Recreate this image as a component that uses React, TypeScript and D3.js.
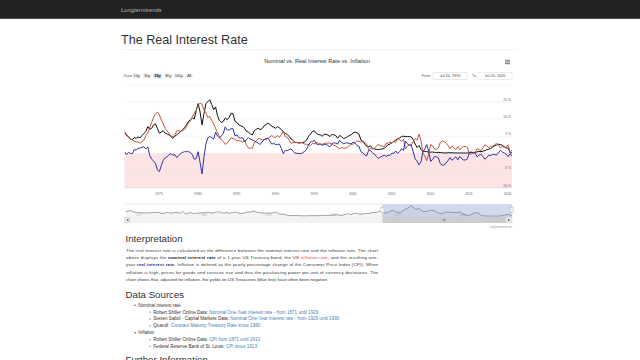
import { useEffect, useRef } from 'react';
import * as d3 from 'd3';

const WIDTH = 640;
const HEIGHT = 360;
const FONT = '"Liberation Sans", Arial, Helvetica, sans-serif';

// Quarterly observations, Jul 1970 .. Jul 2020 (percent)
const NOMINAL_RATE = [
  6.3, 5.2,
  4.9, 4.2, 3.9, 4.6, 4.4, 4.8, 4.5, 5.2, 5.8, 6.4, 7.8, 7.0, 7.3, 8.3, 8.6, 7.2,
  5.9, 6.2, 6.6, 5.9, 5.6, 5.4, 4.9, 4.4, 5.0, 5.4, 6.0, 6.4, 6.9, 7.5, 8.3, 9.3,
  9.8, 10.3, 10.0, 12.4, 14.5, 12.0, 8.3, 11.5, 14.5, 15.0, 15.6, 14.2, 12.7, 13.5, 11.0, 9.5,
  9.0, 9.3, 10.3, 9.8, 10.5, 11.7, 11.5, 9.3, 9.0, 8.3, 8.0, 7.8, 7.3, 6.4, 6.2, 5.6,
  5.4, 6.6, 7.0, 7.3, 6.9, 7.2, 8.0, 8.4, 8.8, 8.4, 7.9, 7.6, 7.3, 7.8, 7.4, 6.9,
  6.2, 5.8, 5.5, 4.9, 4.2, 3.8, 3.2, 3.2, 3.0, 3.1, 3.2, 3.3, 3.9, 5.0, 5.6, 6.4,
  6.6, 5.9, 5.5, 5.4, 5.0, 5.5, 5.6, 5.3, 4.9, 5.5, 5.4, 5.2, 4.4, 5.2, 4.9, 4.3,
  4.5, 4.8, 5.2, 5.4, 6.0, 6.2, 6.0, 5.6, 3.9, 3.5, 2.7, 2.0, 2.0, 2.2, 1.5, 1.3,
  1.2, 1.1, 1.2, 1.3, 1.4, 2.0, 2.5, 2.7, 3.1, 3.5, 3.9, 4.3, 4.5, 4.9, 5.0, 4.9,
  4.9, 4.9, 4.8, 4.0, 2.7, 1.7, 2.3, 1.2, 0.5, 0.6, 0.5, 0.4, 0.35, 0.4, 0.3, 0.25,
  0.3, 0.25, 0.2, 0.12, 0.12, 0.18, 0.19, 0.18, 0.15, 0.12, 0.12, 0.12, 0.12, 0.11, 0.11, 0.11,
  0.2, 0.23, 0.3, 0.26, 0.45, 0.56, 0.51, 0.66, 0.82, 1.05, 1.22, 1.4, 1.8, 2.2, 2.4, 2.65,
  2.55, 2.4, 1.95, 1.6, 1.55, 0.2, 0.15,
];

const INFLATION_RATE = [
  5.8, 5.6,
  4.6, 4.2, 4.0, 3.5, 3.4, 3.3, 3.0, 3.4, 3.9, 5.1, 5.9, 7.6, 9.0, 10.5, 11.5, 12.0,
  11.2, 9.7, 8.6, 7.2, 6.5, 5.8, 5.0, 4.9, 5.4, 6.6, 6.6, 6.4, 6.6, 7.0, 7.8, 8.8,
  9.5, 10.7, 11.7, 12.6, 14.0, 14.6, 14.3, 12.6, 11.8, 10.5, 10.7, 9.6, 8.6, 7.3, 6.0, 5.0,
  3.9, 3.5, 2.6, 3.0, 3.7, 4.5, 4.3, 4.2, 3.6, 3.7, 3.6, 3.2, 3.9, 2.3, 1.6, 1.5,
  1.5, 3.0, 3.7, 4.3, 4.3, 3.9, 4.0, 4.1, 4.4, 4.8, 5.2, 4.7, 4.7, 5.2, 4.7, 5.5,
  6.3, 4.9, 4.7, 3.8, 2.9, 3.2, 3.1, 3.2, 3.0, 3.2, 3.0, 2.7, 2.7, 2.5, 2.3, 2.9,
  2.8, 3.1, 3.0, 2.6, 2.7, 2.8, 3.0, 3.0, 3.0, 2.8, 2.3, 2.2, 1.7, 1.4, 1.7, 1.5,
  1.5, 1.7, 2.3, 2.6, 2.7, 3.2, 3.7, 3.5, 3.4, 3.3, 3.2, 2.7, 1.1, 1.4, 1.3, 1.5,
  2.1, 2.6, 2.3, 2.1, 1.9, 2.9, 3.0, 3.3, 3.0, 3.5, 3.2, 4.3, 4.0, 3.5, 4.1, 1.3,
  2.1, 2.6, 2.4, 3.5, 4.3, 3.9, 5.6, 3.7, 0.0, -0.7, -2.1, -0.2, 2.6, 2.2, 1.2, 1.2,
  1.6, 3.2, 3.6, 3.5, 2.9, 2.3, 1.4, 2.2, 1.6, 1.1, 2.0, 1.0, 1.6, 2.0, 2.0, 1.7,
  -0.1, -0.2, 0.2, 0.2, 1.4, 1.1, 0.8, 1.6, 2.5, 2.2, 1.7, 2.0, 2.1, 2.5, 2.9, 2.5,
  1.6, 2.0, 1.8, 1.8, 2.5, 0.3, 1.0,
];

const REAL_RATE = [
  0.5, -0.4,
  0.3, 0.0, -0.1, 1.1, 1.0, 1.5, 1.5, 1.8, 1.9, 1.3, 1.9, -0.6, -1.7, -2.2, -2.9, -4.8,
  -5.3, -3.5, -2.0, -1.3, -0.9, -0.4, -0.1, -0.5, -0.4, -1.2, -0.6, 0.0, 0.3, 0.5, 0.5, 0.5,
  0.3, -0.4, -1.7, -1.5, 0.5, -2.6, -6.0, -1.1, 2.7, 4.5, 4.9, 4.6, 4.1, 6.2, 5.0, 4.5,
  5.1, 5.8, 7.7, 6.8, 6.8, 7.2, 7.2, 5.1, 5.4, 4.6, 4.4, 4.6, 3.4, 4.1, 4.6, 4.1,
  3.9, 3.6, 3.3, 3.0, 2.6, 3.3, 4.0, 4.3, 4.4, 3.6, 2.7, 2.9, 2.6, 2.6, 2.7, 1.4,
  -0.1, 0.9, 0.8, 1.1, 1.3, 0.6, 0.1, 0.0, 0.0, -0.1, 0.2, 0.6, 1.2, 2.5, 3.3, 3.5,
  3.8, 2.8, 2.5, 2.8, 2.3, 2.7, 2.6, 2.3, 1.9, 2.7, 3.1, 3.0, 2.7, 3.8, 3.2, 2.8,
  3.0, 3.1, 2.9, 2.8, 3.3, 3.0, 2.3, 2.1, 0.5, 0.2, -0.5, -0.7, 0.9, 0.8, 0.2, -0.2,
  -0.9, -1.5, -1.1, -0.8, -0.5, -0.9, -0.5, -0.6, 0.1, 0.0, 0.7, 0.0, 0.5, 1.4, 0.9, 3.6,
  2.8, 2.3, 2.4, 0.5, -1.6, -2.2, -3.3, -2.5, 0.5, 1.3, 2.6, 0.6, -2.3, -1.8, -0.9, -1.0,
  -1.3, -3.0, -3.4, -3.4, -2.8, -2.1, -1.2, -2.0, -1.5, -1.0, -1.9, -0.9, -1.5, -1.9, -1.9, -1.6,
  0.3, 0.4, 0.1, 0.1, -1.0, -0.5, -0.3, -0.9, -1.7, -1.2, -0.5, -0.6, -0.3, -0.3, -0.5, 0.15,
  0.95, 0.4, 0.15, -0.2, -0.95, -0.1, -0.85,
];

// Yearly nominal rate 1871..2020, shown in the navigator
const NAVIGATOR_RATE = [
  6.4, 6.9, 7.9, 6.0, 5.5, 5.0, 4.8, 4.6, 4.3, 5.3,
  4.6, 5.3, 5.3, 5.0, 3.8, 4.3, 5.5, 4.5, 4.2, 5.3,
  5.3, 4.0, 7.0, 3.2, 3.7, 5.6, 3.6, 4.2, 4.3, 4.5,
  4.6, 5.0, 5.3, 4.5, 4.4, 5.7, 6.2, 4.8, 4.4, 5.3,
  4.2, 4.6, 5.7, 5.2, 3.8, 3.8, 5.0, 6.0, 5.6, 7.4,
  6.6, 4.8, 5.1, 4.0, 4.1, 4.4, 4.2, 5.0, 6.0, 3.6,
  2.6, 2.7, 1.7, 1.0, 0.8, 0.8, 0.9, 0.8, 0.6, 0.6,
  0.5, 0.7, 0.8, 0.8, 0.8, 0.8, 0.9, 1.1, 1.2, 1.2,
  1.6, 1.8, 2.1, 1.0, 1.6, 2.8, 3.5, 2.2, 4.0, 4.0,
  2.9, 3.0, 3.3, 3.8, 4.1, 5.1, 4.8, 5.7, 7.1, 6.9,
  4.6, 4.8, 7.2, 8.3, 6.4, 5.4, 5.5, 7.6, 10.0, 11.9,
  14.8, 12.3, 9.6, 10.9, 8.4, 6.5, 6.8, 7.7, 8.5, 7.9,
  5.9, 3.9, 3.4, 5.3, 5.9, 5.5, 5.6, 5.1, 5.1, 6.1,
  3.5, 2.0, 1.2, 1.9, 3.6, 4.9, 4.5, 1.8, 0.5, 0.3,
  0.2, 0.2, 0.1, 0.1, 0.3, 0.6, 1.2, 2.3, 2.1, 0.4,
];

const Y_TICKS = [-10, -5, 0, 5, 10, 15, 20];
const Y_LABELED = [-10, -5, 5, 10, 15];
const X_TICK_YEARS = [1975, 1980, 1985, 1990, 1995, 2000, 2005, 2010, 2015, 2020];
const NAV_TICK_YEARS = [1875, 1900, 1925, 1950, 1975, 2000];
const ZOOM_BUTTONS = ['10y', '30y', '50y', '80y', '100y', 'All'];
const ZOOM_SELECTED = '50y';
const RANGE_FROM = 'Jul 20, 1970';
const RANGE_TO = 'Jul 20, 2020';

type Seg = [string, 'n' | 'b' | 'red' | 'blue' | 'link'];

const INTERPRETATION: Seg[][] = [
  [['The real interest rate is calculated as the difference between the nominal interest rate and the inflation rate. The chart', 'n']],
  [
    ['above displays the ', 'n'],
    ['nominal interest rate', 'b'],
    [' of a 1-year US Treasury bond, the US ', 'n'],
    ['inflation rate', 'red'],
    [', and the resulting one-', 'n'],
  ],
  [
    ['year ', 'n'],
    ['real interest rate', 'blue'],
    ['. Inflation is defined as the yearly percentage change of the Consumer Price Index (CPI). When', 'n'],
  ],
  [['inflation is high, prices for goods and services rise and thus the purchasing power per unit of currency decreases. The', 'n']],
  [['chart shows that, adjusted for inflation, the yields on US Treasuries (blue line) have often been negative.', 'n']],
];

const SOURCES: { level: number; parts: Seg[] }[] = [
  { level: 0, parts: [['Nominal interest rate', 'n']] },
  { level: 1, parts: [['Robert Shiller Online Data: ', 'n'], ['Nominal One-Year interest rate - from 1871 until 1929', 'link']] },
  { level: 1, parts: [['Steven Sabol - Capital Markets Data: ', 'n'], ['Nominal One-Year interest rate - from 1929 until 1990', 'link']] },
  { level: 1, parts: [['Quandl: ', 'n'], ['Constant Maturity Treasury Rate since 1990', 'link']] },
  { level: 0, parts: [['Inflation', 'n']] },
  { level: 1, parts: [['Robert Shiller Online Data: ', 'n'], ['CPI from 1871 until 1913', 'link']] },
  { level: 1, parts: [['Federal Reserve Bank of St. Louis: ', 'n'], ['CPI since 1913', 'link']] },
];

const PLOT = { left: 124.5, right: 512, top: 84.6, bottom: 187.8 };
const NAV = { top: 204, bottom: 217, scrollTop: 217, scrollBottom: 223 };

const SEG_STYLE: Record<Seg[1], { fill: string; weight: string }> = {
  n: { fill: '#333', weight: 'normal' },
  b: { fill: '#111', weight: 'bold' },
  red: { fill: '#e2472f', weight: 'normal' },
  blue: { fill: '#2b2b9e', weight: 'bold' },
  link: { fill: '#4a7fb5', weight: 'normal' },
};

const quarterDate = (i: number) => new Date(1970, 6 + i * 3, 20);

export default function App() {
  const svgRef = useRef<SVGSVGElement>(null);

  useEffect(() => {
    if (!svgRef.current) return;
    const svg = d3.select(svgRef.current);
    svg.selectAll('*').remove();

    svg.append('rect').attr('width', WIDTH).attr('height', HEIGHT).attr('fill', '#fff');

    // Navbar
    svg.append('rect').attr('width', WIDTH).attr('height', 18.5).attr('fill', '#222');
    svg.append('line').attr('x1', 0).attr('x2', WIDTH).attr('y1', 18.5).attr('y2', 18.5)
      .attr('stroke', '#080808').attr('stroke-width', 0.5);
    svg.append('text').attr('x', 121).attr('y', 11.5).attr('font-size', 5.8)
      .attr('fill', '#b5b5b5').text('Longtermtrends');

    // Page title
    svg.append('text').attr('x', 121).attr('y', 44).attr('font-size', 12.6)
      .attr('fill', '#333').text('The Real Interest Rate');
    svg.append('line').attr('x1', 121).attr('x2', 518).attr('y1', 49.5).attr('y2', 49.5)
      .attr('stroke', '#eee').attr('stroke-width', 0.6);

    // Chart title + menu
    svg.append('text').attr('x', 317).attr('y', 63).attr('text-anchor', 'middle')
      .attr('font-size', 5.6).attr('fill', '#333').text('Nominal vs. Real Interest Rate vs. Inflation');
    [60.3, 62, 63.7].forEach(yy => {
      svg.append('line').attr('x1', 505).attr('x2', 510).attr('y1', yy).attr('y2', yy)
        .attr('stroke', '#666').attr('stroke-width', 0.9);
    });

    // Range selector
    svg.append('text').attr('x', 123.5).attr('y', 77.3).attr('font-size', 3.8)
      .attr('fill', '#666').text('Zoom');
    const btnX = d3.scaleBand().domain(ZOOM_BUTTONS).range([132, 194]).paddingInner(0.12);
    ZOOM_BUTTONS.forEach(b => {
      const bx = btnX(b) ?? 0;
      const sel = b === ZOOM_SELECTED;
      svg.append('rect').attr('x', bx).attr('y', 72.8).attr('width', btnX.bandwidth()).attr('height', 6.3)
        .attr('rx', 1).attr('fill', sel ? '#e6ebf5' : '#f7f7f7');
      svg.append('text').attr('x', bx + btnX.bandwidth() / 2).attr('y', 77.3).attr('text-anchor', 'middle')
        .attr('font-size', 3.8).attr('font-weight', sel ? 'bold' : 'normal')
        .attr('fill', sel ? '#000' : '#333').text(b);
    });
    svg.append('text').attr('x', 430.5).attr('y', 77.3).attr('text-anchor', 'end').attr('font-size', 3.8)
      .attr('fill', '#666').text('From');
    svg.append('text').attr('x', 476).attr('y', 77.3).attr('text-anchor', 'end').attr('font-size', 3.8)
      .attr('fill', '#666').text('To');
    [[433, RANGE_FROM], [478, RANGE_TO]].forEach(([bx, label]) => {
      svg.append('rect').attr('x', bx as number).attr('y', 72.4).attr('width', 34).attr('height', 7)
        .attr('fill', '#fff').attr('stroke', '#ccc').attr('stroke-width', 0.4);
      svg.append('text').attr('x', (bx as number) + 17).attr('y', 77.3).attr('text-anchor', 'middle')
        .attr('font-size', 3.8).attr('fill', '#444').text(label as string);
    });

    // Main plot
    const x = d3.scaleTime()
      .domain([new Date(1970, 6, 20), new Date(2020, 6, 20)])
      .range([PLOT.left, PLOT.right]);
    const y = d3.scaleLinear().domain([-10, 20]).range([PLOT.bottom, PLOT.top]);

    svg.append('clipPath').attr('id', 'plot-clip').append('rect')
      .attr('x', PLOT.left).attr('y', PLOT.top - 2)
      .attr('width', PLOT.right - PLOT.left).attr('height', PLOT.bottom - PLOT.top + 2);

    // negative-rate band
    svg.append('rect').attr('x', PLOT.left).attr('y', y(0))
      .attr('width', PLOT.right - PLOT.left).attr('height', y(-10) - y(0)).attr('fill', '#fde4e4');

    Y_TICKS.forEach(t => {
      svg.append('line').attr('x1', PLOT.left).attr('x2', PLOT.right).attr('y1', y(t)).attr('y2', y(t))
        .attr('stroke', '#e6e6e6').attr('stroke-width', 0.4);
    });
    Y_LABELED.forEach(t => {
      svg.append('text').attr('x', PLOT.right - 1).attr('y', y(t) - 1.2).attr('text-anchor', 'end')
        .attr('font-size', 3.4).attr('fill', '#666').text(`${t} %`);
    });
    svg.append('line').attr('x1', PLOT.left).attr('x2', PLOT.right).attr('y1', PLOT.bottom).attr('y2', PLOT.bottom)
      .attr('stroke', '#ccd6eb').attr('stroke-width', 0.4);
    X_TICK_YEARS.forEach(yr => {
      svg.append('text').attr('x', x(new Date(yr, 0, 1))).attr('y', 195).attr('text-anchor', 'middle')
        .attr('font-size', 3.4).attr('fill', '#666').text(String(yr));
    });

    const line = d3.line<number>()
      .x((_d, i) => x(quarterDate(i)))
      .y(d => y(d));
    const series: [number[], string][] = [
      [NOMINAL_RATE, '#111111'],
      [INFLATION_RATE, '#c4543c'],
      [REAL_RATE, '#3232a8'],
    ];
    const plotG = svg.append('g').attr('clip-path', 'url(#plot-clip)');
    series.forEach(([values, color]) => {
      plotG.append('path').attr('d', line(values) ?? '').attr('fill', 'none')
        .attr('stroke', color).attr('stroke-width', 1).attr('stroke-linejoin', 'round');
    });

    // Navigator
    const navX = d3.scaleTime()
      .domain([new Date(1871, 0, 1), new Date(2020, 6, 20)])
      .range([PLOT.left, PLOT.right]);
    const navY = d3.scaleLinear().domain([0, 15]).range([NAV.bottom - 0.8, NAV.top + 1.5]);
    const yearDate = (i: number) => new Date(1871 + i, 6, 1);

    NAV_TICK_YEARS.forEach(yr => {
      const tx = navX(new Date(yr, 0, 1));
      svg.append('line').attr('x1', tx).attr('x2', tx).attr('y1', NAV.top).attr('y2', NAV.bottom)
        .attr('stroke', '#eee').attr('stroke-width', 0.4);
      svg.append('text').attr('x', tx + 1.5).attr('y', NAV.bottom - 1.5).attr('font-size', 2.6)
        .attr('fill', '#bbb').text(String(yr));
    });
    const area = d3.area<number>()
      .x((_d, i) => navX(yearDate(i)))
      .y0(NAV.bottom)
      .y1(d => navY(d));
    svg.append('path').attr('d', area(NAVIGATOR_RATE) ?? '').attr('fill', '#777').attr('fill-opacity', 0.07);
    const navLine = d3.line<number>()
      .x((_d, i) => navX(yearDate(i)))
      .y(d => navY(d));
    svg.append('path').attr('d', navLine(NAVIGATOR_RATE) ?? '').attr('fill', 'none')
      .attr('stroke', '#666').attr('stroke-width', 0.6);

    const selLeft = navX(new Date(1970, 6, 20));
    const selRight = navX(new Date(2020, 6, 20));
    svg.append('rect').attr('x', selLeft).attr('y', NAV.top).attr('width', selRight - selLeft)
      .attr('height', NAV.bottom - NAV.top).attr('fill', 'rgba(102,133,194,0.3)');
    svg.append('path')
      .attr('d', `M${PLOT.left},${NAV.top}H${selLeft}V${NAV.bottom}H${selRight}V${NAV.top}H${PLOT.right}`)
      .attr('fill', 'none').attr('stroke', '#ccc').attr('stroke-width', 0.4);
    [selLeft, selRight].forEach(hx => {
      svg.append('rect').attr('x', hx - 1.6).attr('y', NAV.top + 3.5).attr('width', 3.2).attr('height', 5)
        .attr('fill', '#f2f2f2').attr('stroke', '#999').attr('stroke-width', 0.3);
    });

    // Scrollbar
    const sb = NAV.scrollBottom - NAV.scrollTop;
    svg.append('rect').attr('x', PLOT.left).attr('y', NAV.scrollTop).attr('width', PLOT.right - PLOT.left)
      .attr('height', sb).attr('fill', '#f2f2f2');
    svg.append('rect').attr('x', selLeft).attr('y', NAV.scrollTop).attr('width', selRight - sb - selLeft)
      .attr('height', sb).attr('fill', '#cccccc');
    const mid = (selLeft + selRight - sb) / 2;
    [-1, 0, 1].forEach(k => {
      svg.append('line').attr('x1', mid + k).attr('x2', mid + k)
        .attr('y1', NAV.scrollTop + 1.8).attr('y2', NAV.scrollBottom - 1.8)
        .attr('stroke', '#333').attr('stroke-width', 0.3);
    });
    [PLOT.left, PLOT.right - sb].forEach((bx, i) => {
      svg.append('rect').attr('x', bx).attr('y', NAV.scrollTop).attr('width', sb).attr('height', sb)
        .attr('fill', '#e6e6e6').attr('stroke', '#ccc').attr('stroke-width', 0.3);
      const cx = bx + sb / 2;
      const cy = NAV.scrollTop + sb / 2;
      const d = i === 0
        ? `M${cx + 0.8},${cy - 1.3}L${cx - 0.8},${cy}L${cx + 0.8},${cy + 1.3}Z`
        : `M${cx - 0.8},${cy - 1.3}L${cx + 0.8},${cy}L${cx - 0.8},${cy + 1.3}Z`;
      svg.append('path').attr('d', d).attr('fill', '#333');
    });
    svg.append('text').attr('x', PLOT.right).attr('y', 227.5).attr('text-anchor', 'end')
      .attr('font-size', 2.6).attr('fill', '#999').text('Longtermtrends.net');

    // Text sections
    const addLine = (segs: Seg[], tx: number, ty: number, size: number, len?: number) => {
      const t = svg.append('text').attr('x', tx).attr('y', ty).attr('font-size', size);
      if (len) t.attr('textLength', len).attr('lengthAdjust', 'spacing');
      segs.forEach(([str, kind]) => {
        t.append('tspan').attr('fill', SEG_STYLE[kind].fill)
          .attr('font-weight', SEG_STYLE[kind].weight).text(str);
      });
    };

    svg.append('text').attr('x', 125.5).attr('y', 242).attr('font-size', 9.7).attr('fill', '#333')
      .text('Interpretation');
    INTERPRETATION.forEach((segs, i) => {
      const last = i === INTERPRETATION.length - 1;
      addLine(segs, 126, 252 + i * 7.2, 4.4, last ? undefined : 252);
    });

    svg.append('text').attr('x', 125.5).attr('y', 297.5).attr('font-size', 9.7).attr('fill', '#333')
      .text('Data Sources');
    SOURCES.forEach((item, i) => {
      const ty = 306.6 + i * 6.9;
      const bx = item.level === 0 ? 135 : 150;
      if (item.level === 0) {
        svg.append('circle').attr('cx', bx).attr('cy', ty - 1.4).attr('r', 0.7).attr('fill', '#333');
      } else {
        svg.append('circle').attr('cx', bx).attr('cy', ty - 1.4).attr('r', 0.6).attr('fill', 'none')
          .attr('stroke', '#333').attr('stroke-width', 0.3);
      }
      addLine(item.parts, bx + 3.3, ty, 4.6);
    });

    // heading that the page fold cuts through, as in the screenshot
    svg.append('text').attr('x', 125.5).attr('y', 362.5).attr('font-size', 9.7).attr('fill', '#333')
      .text('Further Information');
  }, []);

  return (
    <div style={{ position: 'absolute', left: 0, top: 0, width: WIDTH, height: HEIGHT, overflow: 'hidden' }}>
      <svg
        ref={svgRef}
        width={WIDTH}
        height={HEIGHT}
        style={{ display: 'block', fontFamily: FONT }}
      />
    </div>
  );
}
